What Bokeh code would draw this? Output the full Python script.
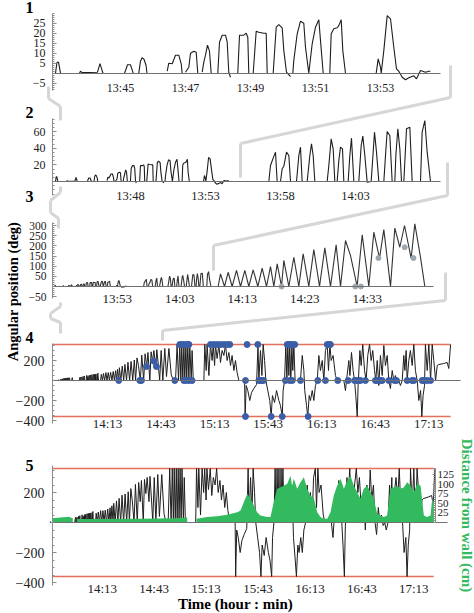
import numpy as np
from bokeh.plotting import figure
from bokeh.models import Range1d, LinearAxis, FixedTicker, Label, Arrow
from bokeh.embed import file_html
from bokeh.resources import INLINE

FONT = "Liberation Serif"
INK = "#1e1e1e"
AXIS_GRAY = "#8c8c8c"
ZERO_GRAY = "#707070"
RED = "#e4705c"
BLUE = "#3b5ea8"
DOT_GRAY = "#9ea6b0"
GREEN = "#33b95e"
CONN = "#d6d6d6"

# ---------------- data (time = minutes after 13:00, angle in degrees) ----------------
P1_TIME = [43.000, 43.046, 43.092, 43.154, None,
           43.738, 43.769, 43.815, 44.292, 44.369, 44.431, 44.462, None,
           45.123, 45.169, 45.215, 45.308, 45.391, None,
           45.563, 45.615, 45.662, 45.723, 45.785, 45.815, None,
           46.437, 46.486, 46.591, 46.692, 46.794, 46.868, 46.898, None,
           47.000, 47.102, 47.154, 47.255, 47.329, 47.378, None,
           47.514, 47.563, 47.615, 47.677, 47.738, 47.791, None,
           47.994, 48.046, 48.129, 48.231, 48.283, 48.332, 48.385, None,
           48.609, 48.662, 48.794, 48.868, 48.917, 48.948, None,
           49.083, 49.175, 49.255, 49.409, 49.483, 49.514, None,
           49.698, 49.791, 49.871, 49.975, 50.025, 50.108, 50.231, None,
           50.302, 50.332, 50.437, 50.538, 50.640, 50.692, 50.794, 50.898, 51.000, 51.102, 51.154, 51.237, None,
           51.440, 51.483, 51.563, 51.668, 51.717, 51.791, 51.840, 51.923, None,
           52.868, 52.929, 53.000, 53.022, 53.102, 53.206, 53.308, 53.409, 53.492, 53.563,
           53.668, 53.769, 53.871, 54.025, 54.108, 54.231, 54.385, 54.486, 54.538]
P1_ANGLE = [0, 5.5, 5.5, 0, None,
            0, 1, 0.3, 0.5, 4.8, 1.5, 0, None,
            0, 2, 4.2, 4.2, 0, None,
            0, 6, 7.7, 7, 4, 0, None,
            1, 5, 4.7, 9, 9, 4.7, 0, None,
            0.5, 3, 10, 11, 10.5, 0, None,
            0.5, 5.5, 9, 14, 11, 0, None,
            0, 15.5, 19, 19, 15.5, 0.5, -2, None,
            0, 19, 19, 20, 18, 0, None,
            0, 21, 20.5, 20, 20, 0, None,
            0, 23, 24.3, 22.7, 11.3, 0.5, -1.7, None,
            0, 6.3, 19.7, 26, 25, 13, 0, 14.7, 23, 26.7, 16.3, 0, None,
            0, 19.7, 22.2, 22.7, 23.8, 26.7, 11.3, 0, None,
            0, 7.2, 3, 0, 11.3, 28.8, 27.2, 13, 2.2, 1,
            -2, -3.3, -2.3, -1.3, -2.8, 1.3, 0.5, 1, 1]

P2_TIME = [57.222, 57.333, 57.511, 57.667, 57.778,
           58.000, 58.111, 58.222, 58.400, 58.556, 58.667,
           59.067, 59.222, 59.333, 59.444,
           59.778, 59.956, 60.067, 60.178, 60.289,
           61.111, 61.222, 61.378, 61.511, 61.622,
           61.778, 61.889, 62.000, 62.133, 62.222,
           62.511, 62.622, 62.733, 62.889,
           63.222, 63.378, 63.489, 63.622, 63.778,
           64.044, 64.178, 64.267, 64.400, 64.556,
           64.889, 65.000, 65.111, 65.289, 65.444,
           65.622, 65.689, 65.822, 65.956, 66.067,
           66.222, 66.400, 66.622, 66.778,
           67.333, 67.444, 67.622, 67.778, 68.000]
P2_ANGLE = [0, 19.2, 28, 35.2, 0,
            0, 15.2, 18.4, 35.2, 31.2, 0,
            0, 31.2, 41.2, 0,
            0, 31.2, 45.2, 31.2, 0,
            0, 19.2, 51.2, 39.2, 0,
            0, 25.2, 41.2, 39.2, 0,
            0, 31.2, 52, 0,
            0, 43.2, 54.4, 31.2, -0.8,
            0, 35.2, 59.2, 35.2, 0,
            0, 31.2, 60, 55.2, 0,
            0, 31.2, 63.2, 39.2, 0,
            0, 63.2, 65.2, 0,
            0, 59.2, 73.2, 35.2, 0]

P3_TIME = [69.15, 69.53, 70.17, 70.75, 71.39, 72.09, 72.73, 73.42, 74.06, 74.75,
           75.50, 76.19, 76.89, 77.53, 78.06, 78.60, 79.29, 79.66, 80.46, 81.26,
           82.06, 82.75, 83.66, 84.46, 85.37, 86.22, 87.13, 88.03, 88.73, 89.53,
           90.33, 91.39, 92.20, 93.26, 94.06, 94.97, 95.66, 96.73, 97.42, 98.22,
           98.97, 100.03, 100.62, 101.53, 102.22]
P3_ANGLE = [0, 62, 0, 70, 0, 79, 0, 79, 0, 82,
            0, 90, 0, 98, 0, 111, 0, 128, 0, 144,
            0, 161, 0, 182, 0, 190, 0, 205, 0, 226,
            152, 0, 254, 0, 267, 139, 280, 0, 287, 193,
            300, 139, 308, 143, 0]

P4_TIME = [103.06, 104.0, 105.1, 106.05, 107.4, 108.7, 109.8, 111.1, 112.0, 112.8,
           113.5, 114.1, 114.6, 115.2, 115.8, 116.3, 116.9, 117.4, 118.0, 118.6,
           119.1, 119.9, 120.4, 121.0, 121.7, None,
           127.0, 127.5, 128.3, 128.8, 129.8, 130.7, 131.6, 132.2, 133.0, 133.5,
           134.4, 135.4, 136.3, 137.2, 138.2, 139.1, 140.0, 141.0, 141.9, 142.8,
           143.8, 144.7, 145.6, 146.6, 148.1, 149.8, 150.1, 150.7, 151.6, 152.7,
           153.7, 155.0, 156.5, 157.3, 157.8, 158.7, 159.5, 160.2, 161.0, 161.7,
           162.8, 163.9, 164.7, 165.4, 166.6, 167.7, 169.0, 169.9, 170.9, 171.4,
           172.2, 172.9, 173.5, 174.0, 174.6, 175.1, 175.7, 176.3, 176.8, 177.4,
           178.1, 179.3, 181.1, 182.1, 183.0, 183.5, 184.5, 185.2, 186.0, 186.7,
           187.7, 188.6, 189.5, 190.5, 191.4, 192.3, 193.3, 194.2, 195.1, 196.1,
           196.8, 197.6, 198.3, 199.4, 200.7, 201.7, 203.5, 205.4, 206.3, 206.9,
           208.2, 208.8, 209.7, 210.6, 211.4, 212.1, 212.9, 213.4, 214.4, 215.1,
           216.0, 217.0, 217.9, 218.8, 219.8, 220.7, 221.6, 222.6, 223.3, 224.1,
           225.0, 225.9, 226.9, 227.8, 228.7, 229.7, 230.6, 231.5, 232.5, 233.4,
           234.3, 235.3, 236.2, 237.1, 238.1, 239.0, 239.6, 240.3, 240.9, 241.8,
           242.7, 243.7, 244.6, 245.5, 246.5, 247.4, 248.4, 249.1, 249.8, 250.6,
           251.1, 252.1, 253.0, 254.0, 254.9, 255.8, 256.8, 257.7, 258.6, 261.4,
           263.3, 264.2, 265.2]
P4_ANGLE = [300, 0, 320, 40, 320, 60, 0, 0, 360, 0,
            360, 0, 360, 10, 360, 0, 360, 20, 360, 0,
            360, 0, 300, 30, 0, None,
            0, 360, 100, 360, 50, 360, 200, 360, 150, 360,
            220, 360, 180, 300, 250, 360, 200, 280, 150, 250,
            100, 200, 80, 0, 0, 0, -360, -50, -100, -200,
            -120, -80, -40, 360, 0, 300, 50, 360, 200, 0,
            -100, -200, -360, -150, -220, -100, -200, -250, -360, -100,
            0, 360, 0, 360, 50, 360, 0, 360, 100, 360,
            0, 0, 0, 250, 100, -100, -250, -360, -150, -200,
            -100, -200, -50, 0, 250, 100, 200, 0, 300, 360,
            100, 360, 200, 250, 50, 0, 0, 0, -100, 0,
            200, 50, 280, 100, 0, -150, -360, -50, 300, 150,
            360, 100, 0, 250, 360, 200, 300, 100, 0, 200,
            -50, 250, 50, 350, 150, 250, 0, -80, 100, 0,
            50, -20, 0, -50, 0, 250, 100, 300, 0, 200,
            300, 150, 360, 100, 0, -200, -100, -360, -150, -50,
            360, 100, 360, 0, 360, 200, 0, 150, 160, 170,
            180, 120, 360]

# wrap / event markers (time, angle)
EVENT_TIME = [79.3, 91.1, 92.0, 94.8, 99.0, 100.4, 110.7,
              113.5, 114.8, 116.1, 117.6, 118.6, 115.8, 117.1, 118.6, 120.4,
              130.7, 132.6, 134.4, 136.3, 138.2, 140.0, 141.5,
              150.3, 150.3, 151.2, 157.2, 157.8, 158.6, 159.5, 160.4,
              164.7, 170.9, 172.7, 173.7, 174.6, 175.5, 176.5, 177.9, 175.1, 176.5,
              181.1, 185.4, 190.8, 195.1, 196.1, 197.2, 197.9, 202.0, 207.8,
              211.4, 212.5, 213.8, 214.7, 217.5, 223.1, 224.1, 225.9, 226.9, 230.6,
              233.8, 234.9, 240.9, 243.7, 244.6, 249.3, 250.2, 252.1, 254.0]
EVENT_ANGLE = [0, 0, 0, 140, 193, 140, 0,
               360, 360, 360, 360, 360, 0, 0, 0, 0,
               360, 360, 360, 360, 360, 360, 360,
               0, -360, 360, 360, 0, 0, 0, 0,
               -360, -360, 0, 360, 360, 360, 360, 360, 0, 0,
               0, -360, 0, 0, 360, 360, 360, 0, 0,
               0, 0, 0, 0, 0, 0, 0, 0, 0, 0,
               0, 0, 0, 0, 0, 0, 0, 0, 0]

# distance from wall (cm), panel 5
DIST1_TIME = [44.1, 48.9, 53.7, 55.6, 56.0]
DIST1_CM = [11, 13, 15, 12, 12]
DIST2_TIME = [58.5, 75.9, 95.1, 114.4, 122.1]
DIST2_CM = [9, 9, 10, 11, 13]
DIST3_TIME = [127.5, 133.6, 139.4, 145.2, 151.0, 152.9, 154.8, 156.8, 158.7, 160.6,
              162.5, 164.4, 168.3, 170.2, 172.1, 174.1, 176.0, 177.9, 179.9, 181.8,
              182.7, 183.7, 185.6, 187.6, 189.5, 191.4, 193.3, 195.3, 197.2, 199.1,
              201.0, 203.0, 204.9, 206.8, 208.7, 210.7, 212.6, 214.5, 216.4, 218.4,
              220.3, 222.2, 224.1, 226.1, 228.0, 229.9, 231.8, 233.8, 235.7, 237.6,
              239.5, 241.5, 243.4, 245.3, 247.3, 249.2, 251.1, 253.0, 254.9, 256.9,
              258.8, 260.7, 262.7, 263.6, 264.6]
DIST3_CM = [10, 14, 16, 20, 27, 31, 53, 75, 62, 44,
            27, 18, 14, 14, 53, 88, 92, 96, 101, 122,
            96, 114, 88, 105, 118, 88, 70, 62, 27, 14,
            10, 10, 27, 70, 96, 114, 88, 109, 122, 96,
            79, 62, 88, 96, 79, 62, 23, 18, 14, 18,
            88, 92, 96, 88, 92, 105, 96, 79, 101, 96,
            18, 14, 18, 62, 53]

# ticks
P1_XTICKS = [45, 47, 49, 51, 53]
P1_XLABELS = ["13:45", "13:47", "13:49", "13:51", "13:53"]
P1_YTICKS = [-5, 5, 10, 15, 20, 25]
P2_XTICKS = [48, 53, 58, 63]
P2_XLABELS = ["13:48", "13:53", "13:58", "14:03"]
P2_YTICKS = [20, 40, 60]
P3_XTICKS = [53, 63, 73, 83, 93]
P3_XLABELS = ["13:53", "14:03", "14:13", "14:23", "14:33"]
P3_YTICKS = [-50, 50, 100, 150, 200, 250, 300]
P45_XTICKS = [73, 103, 133, 163, 193, 223, 253]
P45_XLABELS = ["14:13", "14:43", "15:13", "15:43", "16:13", "16:43", "17:13"]
P45_YTICKS = [-400, -200, 200]
DIST_TICKS = [25, 50, 75, 100, 125]
WRAP = 360

# ---------------- helpers ----------------
W, H = 474, 613


def arr(v):
    return np.array([np.nan if a is None else a for a in v], dtype=float)


T_ALL = np.concatenate([arr(P1_TIME), [np.nan], arr(P2_TIME), [np.nan], arr(P3_TIME), arr(P4_TIME)])
A_ALL = np.concatenate([arr(P1_ANGLE), [np.nan], arr(P2_ANGLE), [np.nan], arr(P3_ANGLE), arr(P4_ANGLE)])


def upto(tmax):
    m = np.isnan(T_ALL) | (T_ALL <= tmax)
    return T_ALL[m], A_ALL[m]


def mlabel(v):
    return str(v).replace("-", "\u2212")


def xcal(px_a, t_a, px_b, t_b):
    """x range spanning the whole canvas, calibrated by two tick positions (page px)."""
    s = (t_b - t_a) / (px_b - px_a)
    return Range1d(t_a - px_a * s, t_a + (W - px_a) * s)


def ycal(py_a, v_a, py_b, v_b):
    """y range spanning the whole canvas, calibrated by two tick positions (page px, from top)."""
    s = (v_b - v_a) / (py_b - py_a)
    return Range1d(v_a + (H - py_a) * s, v_a - py_a * s)


p = figure(width=W, height=H, x_range=Range1d(0, W), y_range=Range1d(0, H),
           x_axis_type=None, y_axis_type=None, toolbar_location=None,
           output_backend="svg", min_border=0, min_border_left=0, min_border_right=0,
           min_border_top=0, min_border_bottom=0)
p.outline_line_color = None
p.background_fill_color = "white"
p.border_fill_color = "white"

p.extra_x_ranges = {
    "x1": xcal(120, 45, 380, 53),
    "x2": xcal(130, 48, 355, 63),
    "x3": xcal(116.7, 53, 366.7, 93),
    "x4": xcal(107, 73, 428.3, 253),
    "x5": xcal(101.7, 73, 413.3, 253),
}
p.extra_y_ranges = {
    "y1": ycal(72.7, 0, 22.7, 25),
    "y2": ycal(181, 0, 131, 60),
    "y3": ycal(286, 0, 225, 300),
    "y4": ycal(380, 0, 360, 200),
    "y5": ycal(522, 0, 492, 200),
    "dist": ycal(522, 0, 474, 125),
}

# connectors (page pixel polylines)
CONNECTORS = [
    [(48, 86), (48, 98), (60, 106), (60, 120)],
    [(450, 65), (450, 97), (240, 143), (240, 177)],
    [(60, 186), (60, 192), (50, 200), (50, 212), (58, 218), (58, 228)],
    [(447, 162), (447, 195), (213, 245), (213, 270)],
    [(60, 302), (60, 306), (50, 313), (50, 318), (60, 322), (60, 333)],
    [(445, 272), (445, 300), (162, 330), (162, 340)],
]
for pts in CONNECTORS:
    for (xa, ya), (xb, yb) in zip(pts[:-1], pts[1:]):
        p.add_layout(Arrow(end=None, x_start=xa, y_start=H - ya, x_end=xb, y_end=H - yb,
                           start_units="screen", end_units="screen",
                           line_color=CONN, line_width=3))


def text(x, y, s, size, bold=False, color="black", angle=0.0):
    p.add_layout(Label(x=x, y=H - y, x_units="screen", y_units="screen", text=s,
                       text_font=FONT, text_font_style="bold" if bold else "normal",
                       text_font_size=size, text_color=color, angle=angle,
                       text_align="center", text_baseline="middle"))


def y_axis(k, xloc, bounds, ticks, minor, size, standoff=6):
    ax = LinearAxis(x_range_name=f"x{k}", y_range_name=f"y{k}", fixed_location=xloc, bounds=bounds,
                    ticker=FixedTicker(ticks=ticks, minor_ticks=minor),
                    major_label_overrides={t: mlabel(t) for t in ticks},
                    axis_line_color=AXIS_GRAY, major_tick_line_color=AXIS_GRAY,
                    minor_tick_line_color=AXIS_GRAY, major_tick_in=4, major_tick_out=0,
                    minor_tick_in=2, minor_tick_out=0, major_label_standoff=standoff,
                    major_label_text_font=FONT, major_label_text_font_size=size,
                    major_label_text_color="#222222")
    p.add_layout(ax, "left")


def x_axis(k, yloc, bounds, ticks, labels, size, standoff, line=True):
    ax = LinearAxis(x_range_name=f"x{k}", y_range_name=f"y{k}", fixed_location=yloc, bounds=bounds,
                    ticker=FixedTicker(ticks=ticks, minor_ticks=[]),
                    major_label_overrides=dict(zip(ticks, labels)),
                    axis_line_color=ZERO_GRAY if line else None, axis_line_width=1,
                    major_tick_line_color=None, minor_tick_line_color=None,
                    major_tick_in=0, major_tick_out=0, major_label_standoff=standoff,
                    major_label_text_font=FONT, major_label_text_font_size=size,
                    major_label_text_color="#222222")
    p.add_layout(ax, "below")


def zero_line(k, bounds):
    ax = LinearAxis(x_range_name=f"x{k}", y_range_name=f"y{k}", fixed_location=0, bounds=bounds,
                    ticker=FixedTicker(ticks=[], minor_ticks=[]),
                    axis_line_color=ZERO_GRAY, major_tick_line_color=None,
                    minor_tick_line_color=None, major_label_text_font_size="0px")
    p.add_layout(ax, "below")


ev_t = np.array(EVENT_TIME)
ev_a = np.array(EVENT_ANGLE)

# ---------------- panel 1 ----------------
y_axis(1, 42.908, (-8.5, 30), P1_YTICKS, list(range(-8, 31)), "12px", 7)
x_axis(1, 0, (42.908, 54.846), P1_XTICKS, P1_XLABELS, "12px", 8)
t, a = upto(54.85)
p.line(t, a, line_color=INK, line_width=1.1, x_range_name="x1", y_range_name="y1")
text(29, 7, "1", "16px", bold=True)

# ---------------- panel 2 ----------------
y_axis(2, 42.8, (-16.8, 75.4), P2_YTICKS, list(range(-15, 76, 5)), "12px", 7)
x_axis(2, 0, (42.8, 68.667), P2_XTICKS, P2_XLABELS, "12.5px", 7)
t, a = upto(68.67)
p.line(t, a, line_color=INK, line_width=1.1, x_range_name="x2", y_range_name="y2")
text(29, 112, "2", "16px", bold=True)

# ---------------- panel 3 ----------------
y_axis(3, 42.65, (-59, 315), P3_YTICKS, list(range(-50, 311, 10)), "11.5px", 6)
x_axis(3, 0, (42.65, 103.6), P3_XTICKS, P3_XLABELS, "13px", 4)
t, a = upto(102.5)
p.line(t, a, line_color="#333333", line_width=1.1, x_range_name="x3", y_range_name="y3")
m3 = ev_t <= 102.5
p.scatter(ev_t[m3], ev_a[m3], size=5, color=DOT_GRAY, x_range_name="x3", y_range_name="y3")
text(29, 196, "3", "16px", bold=True)

# ---------------- panel 4 ----------------
zero_line(4, (42.19, 270.76))
p.segment(x0=[42.19, 42.19], y0=[WRAP, -WRAP], x1=[265.2, 265.2], y1=[WRAP, -WRAP],
          line_color=RED, line_width=1.6, x_range_name="x4", y_range_name="y4")
y_axis(4, 42.19, (-430, 373), P45_YTICKS, list(range(-400, 361, 50)), "14px", 8)
x_axis(4, -330, (42.19, 270.76), P45_XTICKS, P45_XLABELS, "13px", 2, line=False)
p.line(T_ALL, A_ALL, line_color=INK, line_width=1.0, x_range_name="x4", y_range_name="y4")
p.scatter(ev_t, ev_a, size=6, color=BLUE, x_range_name="x4", y_range_name="y4")
text(29, 337, "4", "16px", bold=True)

# ---------------- panel 5 ----------------
zero_line(5, (44.29, 272.5))
p.segment(x0=[44.29, 44.29], y0=[WRAP, -WRAP], x1=[264.5, 264.5], y1=[WRAP, -WRAP],
          line_color=RED, line_width=1.6, x_range_name="x5", y_range_name="y5")
y_axis(5, 44.29, (-420, 380), P45_YTICKS, list(range(-400, 361, 50)), "14px", 8)
x_axis(5, -WRAP, (44.29, 272.5), P45_XTICKS, P45_XLABELS, "13px", 4, line=False)
p.line(T_ALL, A_ALL, line_color=INK, line_width=1.0, x_range_name="x5", y_range_name="y5")
for dt, dv in [(DIST1_TIME, DIST1_CM), (DIST2_TIME, DIST2_CM), (DIST3_TIME, DIST3_CM)]:
    p.varea(x=dt, y1=[0] * len(dt), y2=dv, fill_color=GREEN,
            x_range_name="x5", y_range_name="dist")
rax = LinearAxis(x_range_name="x5", y_range_name="dist", fixed_location=265.6, bounds=(0, 140),
                 ticker=FixedTicker(ticks=DIST_TICKS, minor_ticks=list(range(0, 141, 5))),
                 axis_line_color=AXIS_GRAY, major_tick_line_color=AXIS_GRAY,
                 minor_tick_line_color=AXIS_GRAY, major_tick_in=3, major_tick_out=0,
                 minor_tick_in=2, minor_tick_out=0, major_label_standoff=2,
                 major_label_text_font=FONT, major_label_text_font_size="11px",
                 major_label_text_color="#222222")
p.add_layout(rax, "right")
text(29, 465, "5", "16px", bold=True)

# ---------------- axis titles ----------------
text(466, 515, "Distance from wall (cm)", "15px", bold=True, color=GREEN, angle=-np.pi / 2)
text(235, 603, "Time (hour : min)", "15px", bold=True)
text(12, 291, "Angular position (deg)", "14.5px", bold=True, angle=np.pi / 2)

open("out.html", "w").write(file_html(p, INLINE))
